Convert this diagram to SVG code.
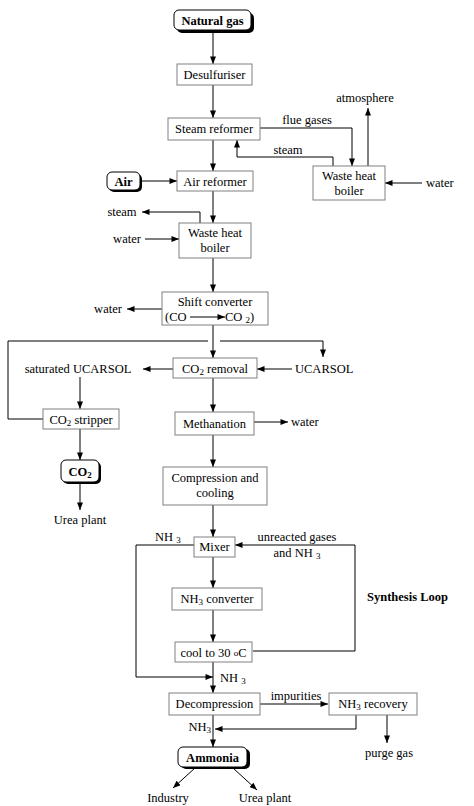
<svg xmlns="http://www.w3.org/2000/svg" width="474" height="806" viewBox="0 0 474 806">
<style>
text{font-family:"Liberation Serif","Times New Roman",serif;font-size:12.5px;fill:#000}
.b{font-weight:bold}
.m{text-anchor:middle}
.e{text-anchor:end}
.box{fill:#fff;stroke:#808080;stroke-width:1}
.rb{fill:#fff;stroke:#000;stroke-width:1}
.sh{fill:#000}
.ln{fill:none;stroke:#000;stroke-width:1}
.ar{fill:none;stroke:#000;stroke-width:1;marker-end:url(#ah)}
.sub{font-size:9px}
</style>
<defs>
<marker id="ah" viewBox="0 0 10 8" refX="10" refY="4" markerWidth="8" markerHeight="6" markerUnits="userSpaceOnUse" orient="auto">
<path d="M0,0 L10,4 L0,8 z" fill="#000"/>
</marker>
</defs>
<rect width="474" height="806" fill="#fff"/>

<g id="connectors">
<line class="ar" x1="213" y1="31" x2="213" y2="64"/>
<line class="ar" x1="213" y1="85" x2="213" y2="118"/>
<line class="ar" x1="213" y1="140" x2="213" y2="171"/>
<polyline class="ar" points="260,128 352,128 352,166"/>
<line class="ar" x1="368" y1="166" x2="368" y2="108"/>
<polyline class="ar" points="333,166 333,157 237,157 237,140"/>
<line class="ar" x1="422" y1="183" x2="385" y2="183"/>
<line class="ar" x1="141" y1="181" x2="177" y2="181"/>
<line class="ar" x1="213" y1="191" x2="213" y2="223"/>
<polyline class="ar" points="200,223 200,212 142,212"/>
<line class="ar" x1="145" y1="239" x2="179" y2="239"/>
<line class="ar" x1="213" y1="258" x2="213" y2="292"/>
<line class="ar" x1="162" y1="309" x2="127" y2="309"/>
<line class="ar" x1="213" y1="325" x2="213" y2="358"/>
<polyline class="ln" points="43,419 8,419 8,341 208,341"/>
<polyline class="ar" points="220,341 323,341 323,357"/>
<line class="ar" x1="292" y1="369" x2="257" y2="369"/>
<line class="ar" x1="173" y1="369" x2="143" y2="369"/>
<line class="ar" x1="80" y1="377" x2="80" y2="409"/>
<line class="ar" x1="80" y1="429" x2="80" y2="460"/>
<line class="ar" x1="80" y1="483" x2="80" y2="510"/>
<line class="ar" x1="213" y1="378" x2="213" y2="412"/>
<line class="ar" x1="254" y1="422" x2="288" y2="422"/>
<line class="ar" x1="213" y1="435" x2="213" y2="467"/>
<line class="ar" x1="213" y1="505" x2="213" y2="537"/>
<polyline class="ar" points="194,545 136,545 136,677 213,677"/>
<polyline class="ar" points="253,651 355,651 355,545 235,545"/>
<line class="ar" x1="213" y1="557" x2="213" y2="588"/>
<line class="ar" x1="213" y1="610" x2="213" y2="642"/>
<line class="ar" x1="213" y1="662" x2="213" y2="693"/>
<line class="ar" x1="260" y1="704" x2="328" y2="704"/>
<polyline class="ar" points="356,715 356,729 215,729"/>
<line class="ar" x1="387" y1="715" x2="387" y2="743"/>
<line class="ar" x1="213" y1="715" x2="213" y2="747"/>
<line class="ar" x1="195" y1="768" x2="173" y2="788"/>
<line class="ar" x1="233" y1="768" x2="257" y2="790"/>
</g>

<g id="natural-gas">
<rect class="sh" x="177" y="13" width="77" height="20" rx="5"/>
<rect class="rb" x="174" y="10" width="77" height="20" rx="5"/>
<text class="b m" x="212.5" y="24.5">Natural gas</text>
</g>
<g id="desulfuriser">
<rect class="box" x="177" y="64" width="75" height="21"/>
<text class="m" x="214.5" y="79">Desulfuriser</text>
</g>
<g id="steam-reformer">
<rect class="box" x="168" y="118" width="92" height="22"/>
<text class="m" x="214" y="133">Steam reformer</text>
</g>
<g id="flue-labels">
<text class="m" x="307" y="124">flue gases</text>
<text class="m" x="288" y="154">steam</text>
<text class="m" x="365" y="102">atmosphere</text>
<text x="426" y="187">water</text>
</g>
<g id="waste-heat-boiler-1">
<rect class="box" x="313" y="166" width="72" height="34"/>
<text class="m" x="349" y="180">Waste heat</text>
<text class="m" x="349" y="195">boiler</text>
</g>
<g id="air">
<rect class="sh" x="109" y="174" width="33" height="18" rx="5"/>
<rect class="rb" x="107" y="172" width="33" height="18" rx="5"/>
<text class="b m" x="123.5" y="185.5">Air</text>
</g>
<g id="air-reformer">
<rect class="box" x="177" y="171" width="76" height="20"/>
<text class="m" x="215" y="185.5">Air reformer</text>
</g>
<g id="waste-heat-boiler-2">
<rect class="box" x="179" y="223" width="72" height="35"/>
<text class="m" x="215" y="237">Waste heat</text>
<text class="m" x="215" y="252">boiler</text>
<text class="m" x="122" y="215.5">steam</text>
<text class="m" x="127" y="243">water</text>
</g>
<g id="shift-converter">
<rect class="box" x="162" y="292" width="106" height="33"/>
<text class="m" x="215" y="306">Shift converter</text>
<text x="165" y="321">(CO</text>
<line class="ar" x1="190" y1="317" x2="225" y2="317"/>
<text x="225" y="321">CO <tspan class="sub" dy="2">2</tspan><tspan dy="-2">)</tspan></text>
<text class="m" x="108" y="313">water</text>
</g>
<g id="co2-removal">
<rect class="box" x="173" y="358" width="84" height="20"/>
<text class="m" x="215" y="372.5">CO<tspan class="sub" dy="2">2</tspan><tspan dy="-2"> removal</tspan></text>
<text x="295" y="373">UCARSOL</text>
<text class="m" x="78" y="373">saturated UCARSOL</text>
</g>
<g id="co2-stripper">
<rect class="box" x="43" y="409" width="76" height="20"/>
<text class="m" x="81" y="423.5">CO<tspan class="sub" dy="2">2</tspan><tspan dy="-2"> stripper</tspan></text>
</g>
<g id="co2">
<rect class="sh" x="63" y="462" width="38" height="22" rx="5"/>
<rect class="rb" x="61" y="460" width="38" height="22" rx="5"/>
<text class="b m" x="80" y="475.5">CO<tspan class="sub" dy="2">2</tspan></text>
<text class="m" x="80" y="524">Urea plant</text>
</g>
<g id="methanation">
<rect class="box" x="175" y="412" width="79" height="23"/>
<text class="m" x="214.5" y="427.5">Methanation</text>
<text x="291" y="426">water</text>
</g>
<g id="compression">
<rect class="box" x="163" y="467" width="104" height="38"/>
<text class="m" x="215" y="481.5">Compression and</text>
<text class="m" x="215" y="497">cooling</text>
</g>
<g id="mixer">
<rect class="box" x="194" y="537" width="41" height="20"/>
<text class="m" x="214.5" y="551">Mixer</text>
<text x="155" y="541">NH <tspan class="sub" dy="2">3</tspan></text>
<text class="m" x="297" y="541">unreacted gases</text>
<text class="m" x="297" y="557">and NH <tspan class="sub" dy="2">3</tspan></text>
</g>
<g id="nh3-converter">
<rect class="box" x="172" y="588" width="90" height="22"/>
<text class="m" x="217" y="603">NH<tspan class="sub" dy="2">3</tspan><tspan dy="-2"> converter</tspan></text>
</g>
<g id="cool">
<rect class="box" x="175" y="642" width="77" height="20"/>
<text class="m" x="213.5" y="656.5">cool to 30 <tspan class="sub" dy="-1">o</tspan><tspan dy="1">C</tspan></text>
<text x="220" y="682">NH <tspan class="sub" dy="2">3</tspan></text>
</g>
<g id="synthesis-loop">
<text class="b" x="367" y="601">Synthesis Loop</text>
</g>
<g id="decompression">
<rect class="box" x="169" y="693" width="91" height="22"/>
<text class="m" x="214.5" y="708">Decompression</text>
<text class="m" x="296" y="700">impurities</text>
<text class="e" x="211" y="731">NH<tspan class="sub" dy="2">3</tspan></text>
</g>
<g id="nh3-recovery">
<rect class="box" x="329" y="693" width="88" height="22"/>
<text class="m" x="373" y="708">NH<tspan class="sub" dy="2">3</tspan><tspan dy="-2"> recovery</tspan></text>
<text class="m" x="389" y="757">purge gas</text>
</g>
<g id="ammonia">
<rect class="sh" x="181" y="749" width="69" height="20" rx="5"/>
<rect class="rb" x="178" y="747" width="69" height="20" rx="5"/>
<text class="b m" x="212.5" y="761.5">Ammonia</text>
<text class="m" x="168" y="802">Industry</text>
<text class="m" x="265" y="802">Urea plant</text>
</g>
</svg>
